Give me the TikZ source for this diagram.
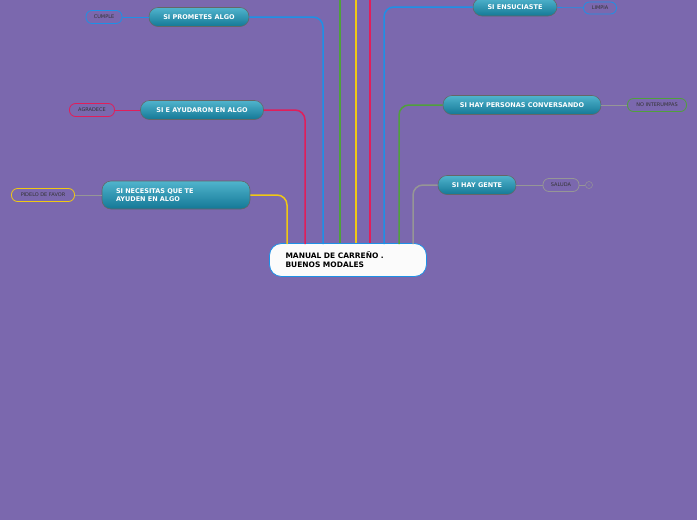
\documentclass[tikz,border=0pt]{standalone}
\usepackage{fontspec}
\setmainfont{DejaVu Sans}
\begin{document}
\begin{tikzpicture}[x=1pt,y=-1pt,
 br/.style={rounded corners=9pt,draw=black!60,line width=0.6pt,top color={rgb,255:red,80;green,180;blue,205},bottom color={rgb,255:red,20;green,120;blue,150},text=white,font=\bfseries\fontsize{6.5}{7.5}\selectfont,inner sep=0pt,minimum height=19pt},
 lf/.style={rounded corners=6pt,draw=#1,line width=0.8pt,font=\fontsize{5}{5.5}\selectfont,text=black!80,inner sep=0pt,minimum height=13pt},
 cn/.style={line width=1.5pt,rounded corners=10pt},
 ln/.style={line width=0.6pt}]
\fill[fill={rgb,255:red,123;green,104;blue,174}] (0,0) rectangle (697,520);
\useasboundingbox (0,0) rectangle (697,520);
\definecolor{cb}{RGB}{30,144,230}
\definecolor{cg}{RGB}{80,160,60}
\definecolor{cy}{RGB}{240,200,20}
\definecolor{cr}{RGB}{225,30,90}
\definecolor{cgr}{RGB}{150,150,150}
% top-going lines
\draw[cn,cg] (340,244) -- (340,0);
\draw[cn,cy] (356,244) -- (356,0);
\draw[cn,cr] (370,244) -- (370,0);
% branches
\node[br,minimum width=100pt] (pro) at (199,17) {SI PROMETES ALGO};
\node[br,minimum width=123pt] (ayu) at (202,110) {SI E AYUDARON EN ALGO};
\node[br,minimum width=148pt,minimum height=28pt,align=left,text width=120pt] (nec) at (176,195) {SI NECESITAS QUE TE\\AYUDEN EN ALGO};
\node[br,minimum width=84pt,minimum height=18pt] (ens) at (515,7) {SI ENSUCIASTE};
\node[br,minimum width=158pt] (con) at (522,105) {SI HAY PERSONAS CONVERSANDO};
\node[br,minimum width=78pt] (gen) at (477,185) {SI HAY GENTE};
% leaves
\node[lf=cb,minimum width=36pt] (cum) at (104,17) {CUMPLE};
\node[lf=cr,minimum width=45pt] (agr) at (92,110) {AGRADECE};
\node[lf=cy,minimum width=63pt] (pid) at (43,195) {PIDELO DE FAVOR};
\node[lf=cb,minimum width=33pt,minimum height=12pt] (lim) at (600,8) {LIMPIA};
\node[lf=cg,minimum width=59pt] (noi) at (657,105) {NO INTERUMPAS};
\node[lf=cgr,minimum width=36pt] (sal) at (561,185) {SALUDA};
\node[circle,draw=cgr,line width=0.5pt,minimum size=7pt,inner sep=0pt,font=\fontsize{3}{3}\selectfont,text=cgr] (ci) at (589,185) {1};
% central
\node[rounded corners=12pt,draw=cb,line width=0.8pt,fill=white!97!gray,minimum width=157pt,minimum height=33pt,align=left,text width=125pt,font=\bfseries\fontsize{7.5}{9}\selectfont] (c) at (348,260) {MANUAL DE CARREÑO .\\BUENOS MODALES};
% connectors
\draw[cn,cb] (pro.east) -- (323,17) -- (323,244);
\draw[cn,cr] (ayu.east) -- (305,110) -- (305,244);
\draw[cn,cy] (nec.east) -- (287,195) -- (287,244);
\draw[cn,cb] (ens.west) -- (384,7) -- (384,244);
\draw[cn,cg] (con.west) -- (399,105) -- (399,244);
\draw[cn,cgr] (gen.west) -- (413,185) -- (413,244);
\draw[ln,cb] (cum) -- (pro);
\draw[ln,cr] (agr) -- (ayu);
\draw[ln,cgr] (pid) -- (nec);
\draw[ln,cb] (ens) -- (lim);
\draw[ln,cgr] (con) -- (noi);
\draw[ln,cgr] (gen) -- (sal);
\draw[ln,cgr] (sal) -- (ci);
\end{tikzpicture}
\end{document}
